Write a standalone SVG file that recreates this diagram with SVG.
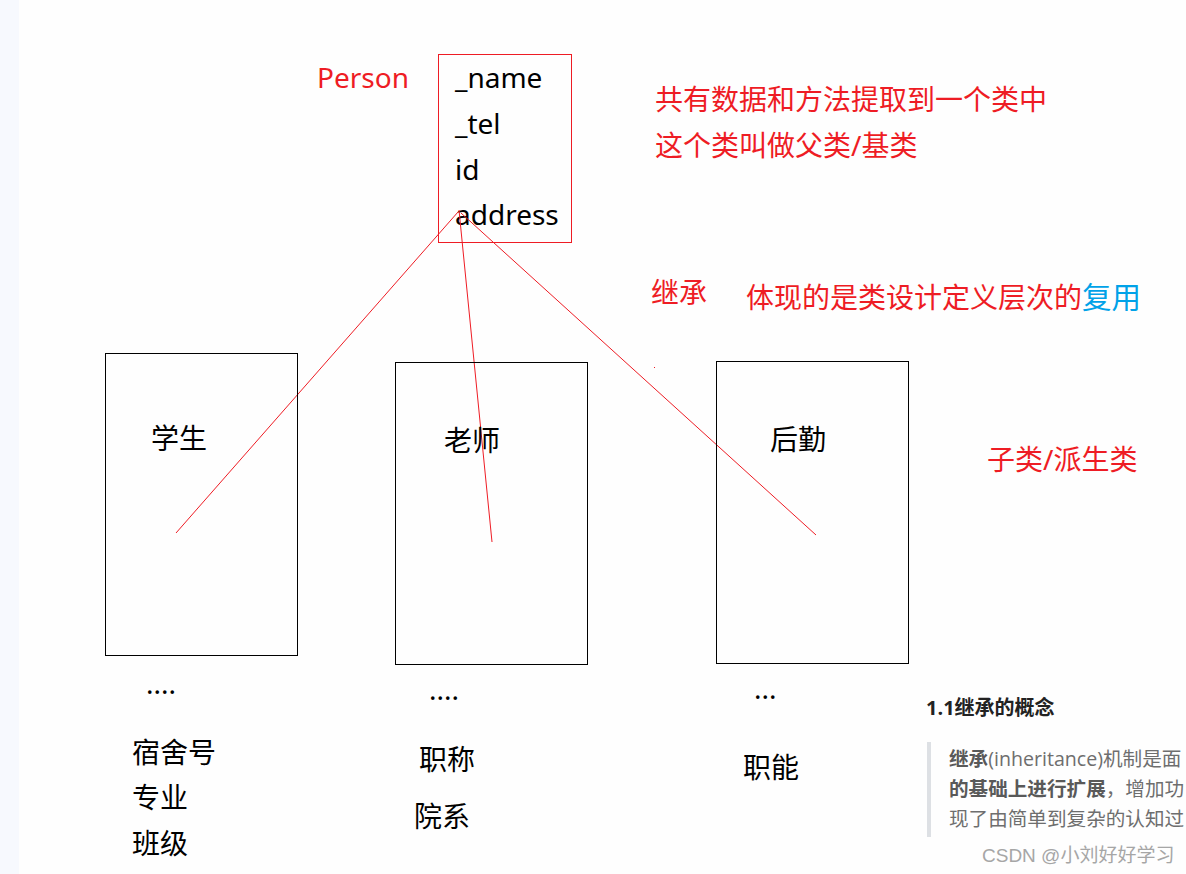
<svg xmlns="http://www.w3.org/2000/svg" width="1186" height="874" viewBox="0 0 1186 874">
  <style>
    .t { font-family: "Noto Sans", "Noto Sans CJK SC", sans-serif; font-size: 28px; fill: #000; }
    .red { fill: #ee1c24; }
    .blue { fill: #00a2e8; }
    .box { fill: none; stroke: #000; stroke-width: 1; }
    .pbox { fill: none; stroke: #ee1c24; stroke-width: 1; }
    .conn { stroke: #ee1c24; stroke-width: 1; fill: none; }
    .q { font-family: "Open Sans", "Noto Sans CJK SC", sans-serif; font-size: 19.6px; fill: #6e6e6e; }
    .qb { font-weight: bold; fill: #595959; }
  </style>
  <rect x="0" y="0" width="1186" height="874" fill="#fefefe"/>
  <rect x="0" y="0" width="19" height="874" fill="#f7f9fe"/>

  <g id="person">
    <rect class="pbox" x="438.5" y="54.5" width="133" height="188"/>
    <text class="t red" x="317" y="88">Person</text>
    <text class="t" x="455" y="88">_name</text>
    <text class="t" x="455" y="134">_tel</text>
    <text class="t" x="455" y="180">id</text>
    <text class="t" x="455" y="225">address</text>
  </g>

  <g id="notes">
    <text class="t red" x="655" y="110">共有数据和方法提取到一个类中</text>
    <text class="t red" x="655" y="156">这个类叫做父类/基类</text>
    <text class="t red" x="651" y="303">继承</text>
    <text class="t red" x="746" y="308">体现的是类设计定义层次的<tspan class="blue" x="1082" style="font-size:29.5px">复用</tspan></text>
    <text class="t red" x="987" y="470">子类/派生类</text>
    <rect x="654" y="367" width="1" height="1" fill="#ee1c24"/>
  </g>

  <g id="connectors">
    <line class="conn" x1="458" y1="212" x2="176" y2="533"/>
    <line class="conn" x1="459" y1="210" x2="492" y2="542"/>
    <line class="conn" x1="461" y1="213" x2="816" y2="535"/>
  </g>

  <g id="student">
    <rect class="box" x="105.5" y="353.5" width="192" height="302"/>
    <text class="t" x="151" y="449">学生</text>
    <text class="t" x="146" y="694">....</text>
    <text class="t" x="132" y="763">宿舍号</text>
    <text class="t" x="132" y="808">专业</text>
    <text class="t" x="132" y="854">班级</text>
  </g>

  <g id="teacher">
    <rect class="box" x="395.5" y="362.5" width="192" height="302"/>
    <text class="t" x="444" y="451">老师</text>
    <text class="t" x="429" y="700">....</text>
    <text class="t" x="419" y="770">职称</text>
    <text class="t" x="414" y="827">院系</text>
  </g>

  <g id="staff">
    <rect class="box" x="716.5" y="361.5" width="192" height="302"/>
    <text class="t" x="770" y="450">后勤</text>
    <text class="t" x="754" y="699">...</text>
    <text class="t" x="743" y="778">职能</text>
  </g>

  <g id="excerpt">
    <text x="926" y="715" style="font-family: 'Open Sans', 'Noto Sans CJK SC', sans-serif; font-size: 20px; font-weight: bold; fill: #222;">1.1继承的概念</text>
    <rect x="927" y="742" width="4" height="95" fill="#dde0e4"/>
    <text class="q" x="949" y="766"><tspan class="qb">继承</tspan>(inheritance)机制是面</text>
    <text class="q" x="949" y="796"><tspan class="qb">的基础上进行扩展</tspan>，增加功</text>
    <text class="q" x="949" y="826">现了由简单到复杂的认知过</text>
    <text x="982" y="862" style="font-family: 'Liberation Sans', 'Noto Sans CJK SC', sans-serif; font-size: 19px; fill: #a6a6a6;">CSDN @小刘好好学习</text>
  </g>
</svg>
